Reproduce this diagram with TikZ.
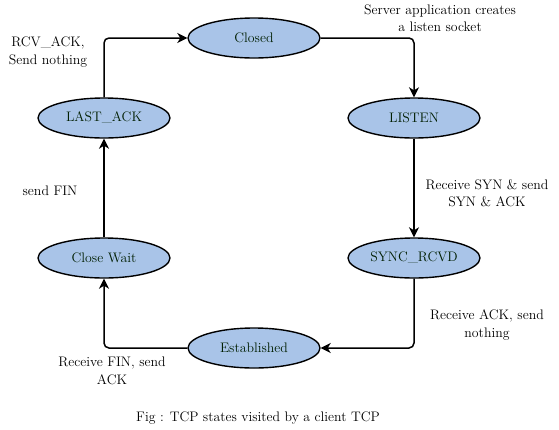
\documentclass[tikz,border=0pt]{standalone}
\usepackage{xcolor}
\usepackage{tikz}
\usetikzlibrary{shapes.geometric,arrows.meta}

\definecolor{statefill}{RGB}{169,196,232}
\definecolor{statetext}{RGB}{0,30,0}

\begin{document}
\begin{tikzpicture}[x=1pt,y=-1pt,
        state/.style={ellipse,draw=black,line width=1.4pt,fill=statefill,text=statetext,
                      minimum width=132pt,minimum height=40pt,inner sep=0pt,
                      font=\fontsize{13.8}{16}\selectfont},
        note/.style={align=center,font=\fontsize{13.8}{17.5}\selectfont},
        flow/.style={line width=1.5pt,rounded corners=5pt,-{Stealth[length=10pt,width=10pt,inset=3pt]}}]
                \useasboundingbox (0,0) rectangle (559,429);
                % states
                \node[state] (closed) at (254,38) {Closed};
                \node[state] (listen) at (414,118) {LISTEN};
                \node[state] (lastack) at (104,118) {LAST\_ACK};
                \node[state] (syncrcvd) at (414,258) {SYNC\_RCVD};
                \node[state] (closewait) at (104,258) {Close Wait};
                \node[state] (established) at (254,348) {Established};

                \draw[flow] (lastack.north) |- (closed.west);
                \draw[flow] (closed.east) -| (listen.north);
                \draw[flow] (listen) -- (syncrcvd);
                \draw[flow] (syncrcvd.south) |- (established.east);
                \draw[flow] (established.west) -| (closewait.south);
                \draw[flow] (closewait) -- (lastack);

                % labels
                \node[note] (rcvack) at (48,52) {RCV\_ACK,\\Send nothing};
                \node[note] (server) at (440,18) {Server application creates\\a listen socket};
                \node[note] (synsend) at (487,193) {Receive SYN \& send\\SYN \& ACK};
                \node[note] (acksend) at (487,325) {Receive ACK, send\\nothing};
                \node[note] (finsend) at (112,371) {Receive FIN, send\\ACK};
                \node[note] (sendfin) at (50,191) {send FIN};
                \node[note] (caption) at (258,418) {Fig : TCP states visited by a client TCP};
            \end{tikzpicture}
\end{document}
